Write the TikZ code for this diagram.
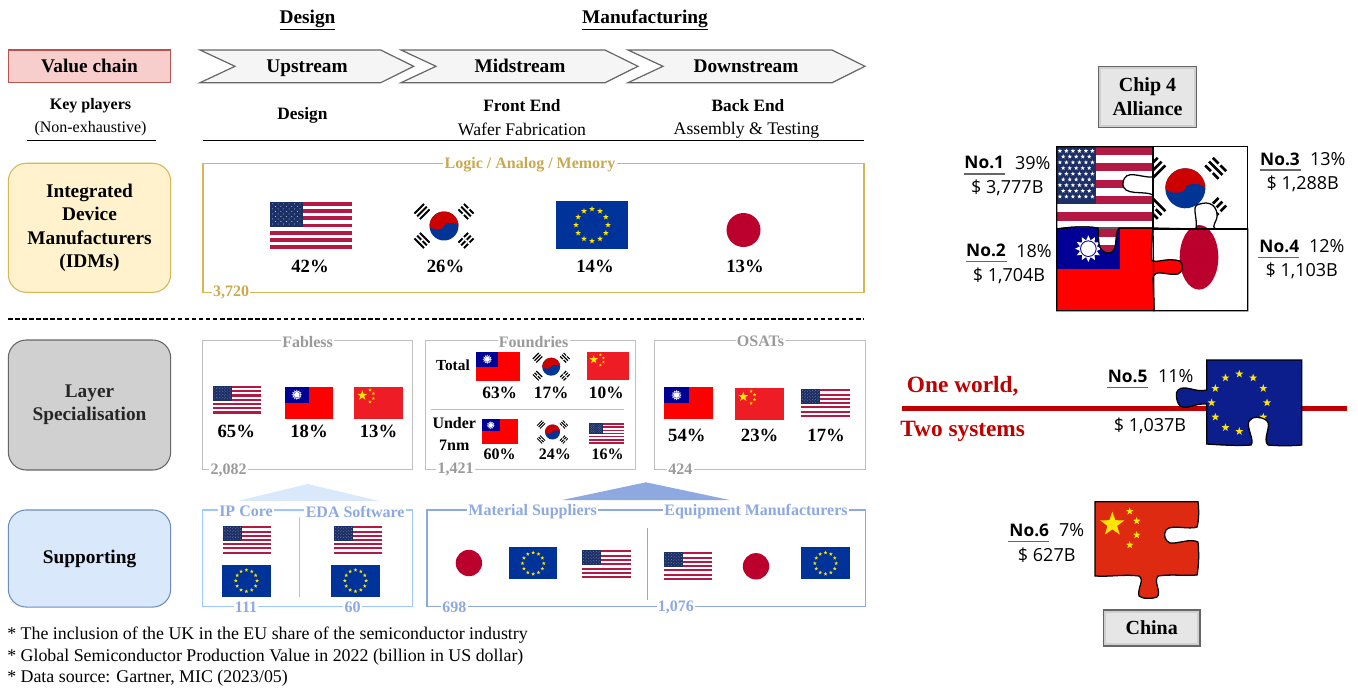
\documentclass[tikz,border=0pt]{standalone}
\usepackage{fontspec}
\setmainfont{Liberation Serif}
\newfontfamily\rankfont{Open Sans}
\definecolor{usred}{HTML}{B31942}
\definecolor{usblue}{HTML}{1C2F66}
\definecolor{twred}{HTML}{FE0000}
\definecolor{twblue}{HTML}{000095}
\definecolor{cnred}{HTML}{EE1C25}
\definecolor{cnpuzzle}{HTML}{DE2A10}
\definecolor{jpred}{HTML}{BC002D}
\definecolor{krred}{HTML}{CD0000}
\definecolor{krblue}{HTML}{003495}
\definecolor{eublue}{HTML}{003399}
\definecolor{eupuzzle}{HTML}{0B1E8C}
\definecolor{staryellow}{HTML}{FFE600}
\definecolor{idmgold}{HTML}{D6B656}
\definecolor{idmtext}{HTML}{C9A94E}
\definecolor{idmfill}{HTML}{FFF2CC}
\definecolor{chainred}{HTML}{B85450}
\definecolor{chainfill}{HTML}{F8CECC}
\definecolor{layerfill}{HTML}{D0D0D0}
\definecolor{layergray}{HTML}{666666}
\definecolor{framegray}{HTML}{BFBFBF}
\definecolor{tagray}{HTML}{9A9A9A}
\definecolor{supfill}{HTML}{DAE8FC}
\definecolor{supline}{HTML}{6C8EBF}
\definecolor{ipline}{HTML}{9CC8FF}
\definecolor{matline}{HTML}{8EA9E0}
\definecolor{worldred}{HTML}{C00000}
\definecolor{bevelfill}{HTML}{E6E6E6}
\definecolor{bevelband}{HTML}{CFCFCF}
\newcommand{\fpt}[1]{\fontsize{#1}{#1}\selectfont}
\tikzset{
  txt/.style={inner sep=0pt,align=center},
  boldtxt/.style={txt,font=\fpt{12}\bfseries},
  stagetxt/.style={txt,font=\fpt{13}\bfseries},
  plaintxt/.style={txt,font=\fpt{13.3}},
  bigtxt/.style={txt,font=\fpt{14.5}\bfseries,text=black},
  share/.style={txt,font=\fpt{14}\bfseries},
  midshare/.style={txt,font=\fpt{13}\bfseries},
  smallshare/.style={txt,font=\fpt{12}\bfseries},
  sidebox/.style={rounded corners=13.5pt,line width=.8pt,minimum width=121.8pt},
  chevron/.style={draw=layergray,fill=black!4,line width=.9pt},
  framegold/.style={draw=idmgold,line width=.9pt},
  framegrey/.style={draw=framegray,line width=.9pt},
  frameip/.style={draw=ipline,line width=1pt},
  framemat/.style={draw=matline,line width=1pt},
  goldtag/.style={boldtxt,fill=white,text=idmtext,inner xsep=1pt},
  greytag/.style={boldtxt,fill=white,text=tagray,inner xsep=1pt},
  iptag/.style={boldtxt,fill=white,text=matline,inner xsep=1pt},
  rankname/.style={txt,font=\fpt{13}\rankfont\bfseries},
  rankshare/.style={txt,font=\fpt{13.5}\rankfont},
  rankvalue/.style={txt,font=\fpt{13.5}\rankfont},
  rankrule/.style={draw=layergray,line width=.8pt},
  bevelbox/.style={txt,draw=layergray,line width=1.1pt,fill=bevelfill,font=\fpt{15}\bfseries,
    path picture={\draw[bevelband,line width=4pt] (path picture bounding box.south west) rectangle (path picture bounding box.north east);}},
  puzzleline/.style={draw=black,line width=.95pt},
  worldtxt/.style={txt,font=\fpt{17.5}\bfseries,text=worldred},
  notetxt/.style={txt,anchor=west,font=\fpt{13.4}}
}
\newcommand{\flagstar}[3]{\begin{scope}[shift={(#1)}]\fill[#3] plot[samples at={0,1,...,9},variable=\t]({(mod(\t,2)==0?#2:#2*.4)*cos(-90+36*\t)},{(mod(\t,2)==0?#2:#2*.4)*sin(-90+36*\t)})--cycle;\end{scope}}
\newcommand{\usflag}[4]{\begin{scope}[shift={(#1,#2)},xscale=#3,yscale=#4]
\fill[white](0,0)rectangle(1,1);
\foreach\s in{0,2,...,12}{\fill[usred](0,\s/13)rectangle(1,\s/13+1/13);}
\fill[usblue](0,0)rectangle(.4,7/13);
\foreach\r in{0,2,...,8}{\foreach\c in{0,...,5}{\fill[white](.033+\c*.067,.04+\r*.0535)circle[x radius=.006,y radius=.008];}}
\foreach\r in{1,3,...,7}{\foreach\c in{0,...,4}{\fill[white](.067+\c*.067,.04+\r*.0535)circle[x radius=.006,y radius=.008];}}
\end{scope}}
\newcommand{\euflag}[4]{\fill[eublue](#1,#2)rectangle++(#3,#4);
\foreach\a in{0,30,...,330}{\flagstar{{#1+#3/2+#4/3*cos(\a)},{#2+#4/2+#4/3*sin(\a)}}{#4/16}{staryellow};}}
\newcommand{\cnflag}[4]{\fill[cnred](#1,#2)rectangle++(#3,#4);
\flagstar{{#1+#3*.17},{#2+#4*.27}}{#4*.16}{staryellow};
\foreach\i/\j in{.33/.1,.4/.21,.4/.36,.33/.47}{\flagstar{{#1+#3*\i},{#2+#4*\j}}{#4*.055}{staryellow};}}
\newcommand{\twflag}[4]{\fill[twred](#1,#2)rectangle++(#3,#4);
\fill[twblue](#1,#2)rectangle++({#3/2},{#4/2});
\begin{scope}[shift={({#1+#3/4},{#2+#4/4})}]
\fill[white] plot[samples at={0,1,...,23},variable=\t]({(mod(\t,2)==0?#4*.16:#4*.105)*cos(15*\t)},{(mod(\t,2)==0?#4*.16:#4*.105)*sin(15*\t)})--cycle;
\fill[twblue](0,0)circle[radius=#4*.1];
\fill[white](0,0)circle[radius=#4*.088];
\end{scope}}
\newcommand{\jpflag}[3]{\fill[jpred](#1,#2)circle[radius=#3];}
\newcommand{\trigram}[7]{\begin{scope}[shift={(#1,#2)},rotate=#3]
\foreach\k/\g in{-1/#5,0/#6,1/#7}{\draw[black,line width=#4*.1pt](-#4*.47,\k*#4*.27)--(#4*.47,\k*#4*.27);
\draw[white,line width=#4*.12pt](-\g*#4*.06,\k*#4*.27)--(\g*#4*.06,\k*#4*.27);}
\end{scope}}
\newcommand{\krflag}[3]{\begin{scope}[shift={(#1,#2)}]
\trigram{-#3*1.52}{-#3*1}{45}{#3}{0}{0}{0}
\trigram{#3*1.52}{-#3*1}{-45}{#3}{1}{0}{1}
\trigram{-#3*1.52}{#3*1}{-45}{#3}{0}{1}{0}
\trigram{#3*1.52}{#3*1}{45}{#3}{1}{1}{1}
\begin{scope}[rotate=-3,y=.75pt]
\fill[krblue](0,0)circle[radius=#3];
\fill[krred](-#3,0)arc[start angle=180,end angle=0,radius=#3]arc[start angle=0,end angle=180,x radius=#3/2,y radius=#3/4]arc[start angle=0,end angle=-180,x radius=#3/2,y radius=#3/4]--cycle;
\end{scope}\end{scope}}
\newcommand{\krpiece}{(1153,146.7)--(1247.7,146.7)--(1247.7,229)--(1153,229)--cycle}
\newcommand{\jppiece}{(1153,228)--(1196,229)..controls(1198,216)and(1190,205)..(1200,204)..controls(1209,201)and(1216,205)..(1217,214)..controls(1218,222)and(1210,226)..(1216,229)--(1247.7,229)--(1247.7,310.7)--(1154,310.7)--cycle}
\newcommand{\twpiece}{(1056.7,229)..controls(1070,227)and(1085,226)..(1098,228)--(1119,228)--(1153,228)..controls(1152,240)and(1151,250)..(1151.7,260)..controls(1156,264)and(1166,257)..(1180,261)..controls(1184,265)and(1183,272)..(1178,274)..controls(1166,276)and(1155,268)..(1153,278)--(1154,310.7)--(1056.7,310.7)--cycle}
\newcommand{\uspiece}{(1056.7,146.7)--(1153,146.7)--(1153,177)..controls(1140,178)and(1125,168)..(1123,183)..controls(1122,197)and(1145,190)..(1153,195)--(1153,228)--(1119,228)..controls(1113,235)and(1120,254)..(1107,253)..controls(1095,250)and(1100,235)..(1098,228)..controls(1085,226)and(1070,227)..(1056.7,229)--cycle}
\newcommand{\eupiece}{(1206.7,360)--(1301.7,360)--(1301.7,445)..controls(1290,446)and(1280,446)..(1268,445)..controls(1262,440)and(1272,425)..(1267,421)..controls(1262,416)and(1252,416)..(1249,421)..controls(1246,428)and(1255,440)..(1251,445)..controls(1240,446)and(1220,445)..(1206.7,444)--(1206.7,404)..controls(1195,403)and(1188,410)..(1180,406)..controls(1176,402)and(1175,392)..(1178,390)..controls(1185,384)and(1195,393)..(1206.7,390)--cycle}
\newcommand{\cnpiece}{(1095,501.7)--(1198,501.7)..controls(1199,510)and(1199,520)..(1197,527)..controls(1190,530)and(1170,524)..(1166,530)..controls(1163,535)and(1165,541)..(1170,543)..controls(1178,544)and(1190,538)..(1198,542)..controls(1199,552)and(1199,565)..(1197,575)..controls(1185,576)and(1170,574)..(1158,576)..controls(1153,582)and(1162,592)..(1157,597)..controls(1152,599)and(1142,599)..(1139,596)..controls(1137,588)and(1145,580)..(1139,576)..controls(1125,574)and(1110,577)..(1095,576)--cycle}
\begin{document}
\begin{tikzpicture}[x=.75pt,y=-.75pt]
\useasboundingbox(0,0)rectangle(1358,693);
\fill[white](0,0)rectangle(1358,693);
\node[bigtxt](designhead)at(307.5,20){\underline{Design}};
\node[bigtxt](manufhead)at(645,20){\underline{Manufacturing}};
\node[txt,draw=chainred,fill=chainfill,line width=.9pt,minimum width=122pt,minimum height=24.5pt,font=\fpt{14.5}\bfseries](valuechain)at(89.5,66.3){Value chain};
\foreach\n/\l/\e/\m in{upstream/200/380.7/Upstream,midstream/401/605/Midstream,downstream/628/832/Downstream}{
\draw[chevron](\l,50)--(\e,50)--({\e+33},66.3)--(\e,82.7)--(\l,82.7)--({\l+35},66.3)--cycle;
}
\node[bigtxt](upstream)at(307,68){Upstream};
\node[bigtxt](midstream)at(520,66){Midstream};
\node[bigtxt](downstream)at(746,66){Downstream};
\node[boldtxt](keyplayers)at(90.5,106){Key players};
\node[plaintxt,font=\fpt{12}](nonexh)at(90.5,128.5){(Non-exhaustive)};
\node[stagetxt](stagedesign)at(302.5,115){Design};
\node[stagetxt](frontend)at(522,106){Front End};
\node[plaintxt](wafer)at(522,129){Wafer Fabrication};
\node[stagetxt](backend)at(748,106){Back End};
\node[plaintxt](assembly)at(746.5,130){Assembly \& Testing};
\draw[black,line width=1pt](27,140.5)--(156,140.5);
\draw[black,line width=1pt](203,140.5)--(864,140.5);
\node[txt,sidebox,draw=idmgold,fill=idmfill,minimum height=96.8pt,font=\fpt{14.5}\bfseries,execute at begin node={\baselineskip=17.5pt}](idm)at(89.5,227.8){Integrated\\Device\\Manufacturers\\(IDMs)};
\node[txt,sidebox,draw=layergray,fill=layerfill,minimum height=97.5pt,font=\fpt{14.5}\bfseries,text=black!85,execute at begin node={\baselineskip=17.5pt}](layer)at(89.5,405){Layer\\Specialisation};
\node[txt,sidebox,draw=supline,fill=supfill,minimum height=72.8pt,font=\fpt{14.5}\bfseries](support)at(89.5,558.5){Supporting};
\draw[framegold](203,163.5)rectangle(864,292.5);
\node[goldtag](logictag)at(530,165){Logic / Analog / Memory};
\node[goldtag](idmtotal)at(231,292.7){3,720};
\usflag{270}{202}{81.5}{47}
\krflag{444}{226}{14.5}
\euflag{556}{201}{72}{48}
\jpflag{743.5}{230}{17}
\foreach\n/\x/\m in{a/310/42,b/445.5/26,c/595/14,d/745/13}{\node[share](idm\n)at(\x,266){\m\%};}
\draw[black,dashed,line width=.9pt,dash pattern=on 3.4pt off 1.9pt](8,319)--(864,319);
\draw[framegrey](202.3,340.7)rectangle(412.5,469.5);
\node[greytag](fabless)at(307.6,341.7){Fabless};
\node[greytag](fabtotal)at(228.5,470){2,082};
\usflag{213}{386}{48}{27.5}
\twflag{284.7}{386.7}{48.5}{32.3}
\cnflag{354}{386.7}{48.5}{32.3}
\foreach\n/\x/\m in{a/236.3/65,b/309/18,c/378.5/13}{\node[share](fab\n)at(\x,431){\m\%};}
\draw[framegrey](425.2,340.7)rectangle(635.8,469.5);
\node[greytag](foundries)at(533.6,341.7){Foundries};
\node[greytag](foundtotal)at(455.6,469){1,421};
\node[boldtxt,font=\fpt{11.5}\bfseries](totallab)at(453,365){Total};
\twflag{476.3}{352}{44}{29}
\krflag{551.2}{366.7}{9}
\cnflag{586.5}{352}{42.3}{28}
\foreach\n/\x/\m in{a/499.7/63,b/551.2/17,c/606.3/10}{\node[midshare](total\n)at(\x,392.5){\m\%};}
\draw[framegray,line width=1.1pt](430.5,409.7)--(623.9,409.7);
\node[boldtxt,execute at begin node={\baselineskip=17pt}](underlab)at(454.3,434){Under\\7nm};
\twflag{481.6}{419}{36.6}{24.7}
\krflag{552.5}{432}{7.5}
\usflag{589}{423.3}{34.5}{20.4}
\foreach\n/\x/\m in{a/499.7/60,b/554.8/24,c/607.6/16}{\node[smallshare](under\n)at(\x,454.7){\m\%};}
\draw[framegrey](654.8,340.7)rectangle(865.3,469.5);
\node[greytag](osats)at(760.5,341){OSATs};
\node[greytag](osattotal)at(680.3,469){424};
\twflag{664.4}{387}{48.5}{32.3}
\cnflag{735}{388}{48.8}{32.3}
\usflag{801}{389.3}{48.5}{27.7}
\foreach\n/\x/\m in{a/686.9/54,b/759.6/23,c/826.1/17}{\node[share](osat\n)at(\x,435){\m\%};}
\fill[supfill](237.6,501)--(307.6,484)--(379.4,501)--cycle;
\fill[matline](562.2,500)--(646,482.3)--(729.6,500)--cycle;
\draw[frameip](202.3,510)rectangle(412.5,606.7);
\node[iptag](ipcore)at(246,511.5){IP Core};
\node[iptag](edasoft)at(355.2,511.5){EDA Software};
\node[iptag](iptotal)at(246,607.3){111};
\node[iptag](edatotal)at(352.6,607.3){60};
\draw[ipline,line width=1pt](299.7,517.3)--(299.7,597.3);
\usflag{222.6}{526.3}{48}{27.4}
\euflag{222.2}{564.7}{48.4}{32}
\usflag{334}{526.3}{47.6}{27.4}
\euflag{331}{564.7}{49}{32}
\draw[framemat](427,510)rectangle(865.3,606.7);
\node[iptag](material)at(532.7,511.5){Material Suppliers};
\node[iptag](equipment)at(756,511.5){Equipment Manufacturers};
\node[iptag](mattotal)at(454.3,607.3){698};
\node[iptag](eqtotal)at(675.9,607.3){1,076};
\draw[matline,line width=1pt](647.3,528)--(647.3,600);
\jpflag{468.9}{563}{13.2}
\euflag{508.9}{547.3}{48.5}{32}
\usflag{582}{550.3}{48.5}{28}
\usflag{663.6}{552.3}{48.4}{27.7}
\jpflag{756}{566.3}{13.2}
\euflag{801}{547.3}{49}{32}
\node[notetxt](noteuk)at(7,635){* The inclusion of the UK in the EU share of the semiconductor industry};
\node[notetxt](notevalue)at(7,657){* Global Semiconductor Production Value in 2022 (billion in US dollar)};
\node[notetxt](notesource)at(7,678){* Data source: Gartner, MIC (2023/05)};
\node[bevelbox,minimum width=73.2pt,minimum height=46pt,execute at begin node={\baselineskip=18pt}](chipfour)at(1147.5,97){Chip 4\\Alliance};
\begin{scope}\clip\krpiece;\fill[white](1153,146.7)rectangle(1247.7,229);\krflag{1185.3}{188.3}{20}\end{scope}
\begin{scope}\clip\jppiece;\fill[white](1153,200)rectangle(1247.7,310.7);\fill[jpred](1199,257.3)circle[x radius=19.3,y radius=32.3];\end{scope}
\begin{scope}\clip\twpiece;\twflag{1056.7}{228}{126.6}{82.7}\end{scope}
\begin{scope}\clip\uspiece;\usflag{1056.7}{146.7}{97}{106.6}
\foreach\r in{0,2,...,8}{\foreach\c in{0,...,5}{\flagstar{{1056.7+97*(.033+\c*.067)},{146.7+106.6*(.04+\r*.0535)}}{2.3}{white};}}
\foreach\r in{1,3,...,7}{\foreach\c in{0,...,4}{\flagstar{{1056.7+97*(.067+\c*.067)},{146.7+106.6*(.04+\r*.0535)}}{2.3}{white};}}
\end{scope}
\draw[puzzleline]\krpiece;\draw[puzzleline]\jppiece;\draw[puzzleline]\twpiece;\draw[puzzleline]\uspiece;
\node[rankname](nofirst)at(984.3,162.7){No.1};
\node[rankshare](sharefirst)at(1032.7,162.7){39\%};
\draw[rankrule](964,174)--(1005,174);
\node[rankvalue](valfirst)at(1007.3,188.3){\$ 3,777B};
\node[rankname](nosecond)at(986,250.7){No.2};
\node[rankshare](sharesecond)at(1034,250.7){18\%};
\draw[rankrule](966,261.3)--(1006.7,261.3);
\node[rankvalue](valsecond)at(1009,276){\$ 1,704B};
\node[rankname](nothird)at(1280,159){No.3};
\node[rankshare](sharethird)at(1327.7,159){13\%};
\draw[rankrule](1260,170)--(1300.7,170);
\node[rankvalue](valthird)at(1302.7,184.3){\$ 1,288B};
\node[rankname](nofourth)at(1279.3,246){No.4};
\node[rankshare](sharefourth)at(1326.7,246){12\%};
\draw[rankrule](1258,257.3)--(1299,257.3);
\node[rankvalue](valfourth)at(1301.7,270.7){\$ 1,103B};
\draw[worldred,line width=3.4pt](902,408.7)--(1346.7,408.7);
\node[worldtxt](oneworld)at(962.7,386){One world,};
\node[worldtxt](twosystems)at(962.7,431){Two systems};
\node[rankname](nofifth)at(1127.7,376){No.5};
\node[rankshare](sharefifth)at(1175.7,376){11\%};
\draw[rankrule](1107.3,387.3)--(1148.3,387.3);
\node[rankvalue](valfifth)at(1150,426){\$ 1,037B};
\fill[eupuzzle]\eupiece;
\begin{scope}\clip\eupiece;
\foreach\a in{0,30,...,330}{\flagstar{{1239.3+27.7*cos(\a)},{402.7+28.7*sin(\a)}}{4.2}{staryellow};}
\end{scope}
\draw[puzzleline]\eupiece;
\fill[cnpuzzle]\cnpiece;
\flagstar{1112.3,524.3}{12.7}{staryellow};
\foreach\i/\j in{1129.7/511.3,1136.7/521,1136.7/535,1129.7/545}{\flagstar{\i,\j}{4}{staryellow};}
\draw[puzzleline]\cnpiece;
\node[rankname](nosixth)at(1029.3,530){No.6};
\node[rankshare](sharesixth)at(1071.7,530){7\%};
\draw[rankrule](1008.3,541.3)--(1049,541.3);
\node[rankvalue](valsixth)at(1046.7,555){\$ 627B};
\node[bevelbox,minimum width=72.5pt,minimum height=26.8pt](china)at(1151.7,628){China};
\end{tikzpicture}
\end{document}
